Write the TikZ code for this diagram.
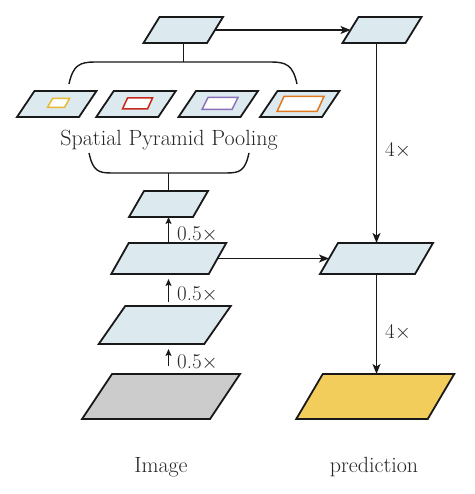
\documentclass[tikz,border=0pt]{standalone}
\usetikzlibrary{arrows.meta}
\definecolor{plblue}{RGB}{220,234,240}
\definecolor{plgray}{RGB}{204,204,204}
\definecolor{plyellow}{RGB}{242,205,92}
\definecolor{sppyellow}{RGB}{232,184,48}
\definecolor{sppred}{RGB}{200,40,30}
\definecolor{spppurple}{RGB}{140,112,184}
\definecolor{spporange}{RGB}{224,120,32}
\newcommand{\plg}[7]{%
  \node[anchorbox, minimum width=#4pt, minimum height=#5pt] (#1) at (#2,#3) {};
  \path[#7] ([xshift=-0.5*#6pt]#1.south west) -- ([xshift=-0.5*#6pt]#1.south east)
     -- ([xshift=0.5*#6pt]#1.north east) -- ([xshift=0.5*#6pt]#1.north west) -- cycle;
}
\begin{document}
\begin{tikzpicture}[x=1pt,y=-1pt,
  anchorbox/.style={inner sep=0pt, outer sep=0pt, draw=none},
  layer/.style={draw=black!90, line width=1.8pt, line join=miter, fill=#1},
  inner/.style={draw=#1, line width=1.5pt, fill=white, line join=miter},
  conn/.style={draw=black!90, line width=1.4pt},
  arr/.style={conn, -{Stealth[length=10pt,width=8pt,inset=2.5pt]}},
  sarr/.style={conn, -{Stealth[length=7pt,width=6pt,inset=1.5pt]}},
  lbl/.style={font=\fontsize{22}{26}\selectfont, inner sep=0pt, text=black!85},
  slbl/.style={font=\fontsize{21}{24}\selectfont, inner sep=0pt, text=black!85}
]
\useasboundingbox (0,0) rectangle (474,494);
% top row
\plg{A}{183.25}{30}{63.5}{26}{16}{layer=plblue}
\plg{B}{382}{30}{63}{26}{16}{layer=plblue}
% SPP row
\plg{S1}{56.75}{104}{62}{26}{17.5}{layer=plblue}
\plg{S2}{136}{104}{62}{26}{17.5}{layer=plblue}
\plg{S3}{218.25}{104}{62}{26}{17.5}{layer=plblue}
\plg{S4}{299.75}{104}{62}{26}{17.5}{layer=plblue}
\plg{I1}{58.5}{103}{17}{9}{5}{inner=sppyellow}
\plg{I2}{137.5}{103.5}{25}{11}{5}{inner=sppred}
\plg{I3}{220}{103.5}{30}{12}{6}{inner=spppurple}
\plg{I4}{300.5}{104}{40}{15}{7}{inner=spporange}
% left column
\plg{E}{168.5}{204}{64}{26}{15}{layer=plblue}
\plg{F}{168.75}{258.5}{97.5}{31}{17.5}{layer=plblue}
\plg{G}{164.75}{325}{105.5}{38}{26.5}{layer=plblue}
\plg{H}{161}{396.5}{128}{45}{30}{layer=plgray}
% right column
\plg{C}{376.5}{258.5}{95}{31}{18}{layer=plblue}
\plg{D}{375.25}{396.5}{131.5}{45}{26.5}{layer=plyellow}
% braces
\coordinate (ubc) at (183.25,62);
\coordinate (ubl) at (69,84);
\coordinate (ubr) at (297,84);
\draw[conn] (A.south) -- (ubc);
\draw[conn] (ubl) .. controls (73,65) and (80,62) .. (95,62) -- (271,62)
   .. controls (286,62) and (293,65) .. (ubr);
\coordinate (lbc) at (168.5,173);
\coordinate (lbl) at (89,153);
\coordinate (lbr) at (249,153);
\draw[conn] (lbl) .. controls (93,171) and (98,173) .. (112,173) -- (226,173)
   .. controls (240,173) and (245,171) .. (lbr);
\draw[conn] (lbc) -- (E.north);
% arrows
\draw[arr] (A.east) -- (B.west);
\draw[arr] (C.north |- B.south) -- (C.north);
\draw[arr] (C.south) -- (C.south |- D.north);
\draw[arr] (F.east) -- (C.west);
\draw[sarr] (E.south |- F.north) -- (E.south);
\draw[sarr, shorten <=4pt, shorten >=5pt] (E.south |- G.north) -- (E.south |- F.south);
\draw[sarr, shorten <=8pt, shorten >=5pt] (E.south |- H.north) -- (E.south |- G.south);
% labels
\node[lbl, anchor=base] (spp) at (169,146) {Spatial Pyramid Pooling};
\node[lbl, anchor=base] (img) at (161,472) {Image};
\node[lbl, anchor=base] (pred) at (374,472) {prediction};
\node[slbl, anchor=base west] (h1) at (177,240.5) {0.5$\times$};
\node[slbl, anchor=base west] (h2) at (177,300) {0.5$\times$};
\node[slbl, anchor=base west] (h3) at (177,368) {0.5$\times$};
\node[slbl, anchor=base west] (q1) at (385,157) {4$\times$};
\node[slbl, anchor=base west] (q2) at (385,338) {4$\times$};
\end{tikzpicture}
\end{document}
